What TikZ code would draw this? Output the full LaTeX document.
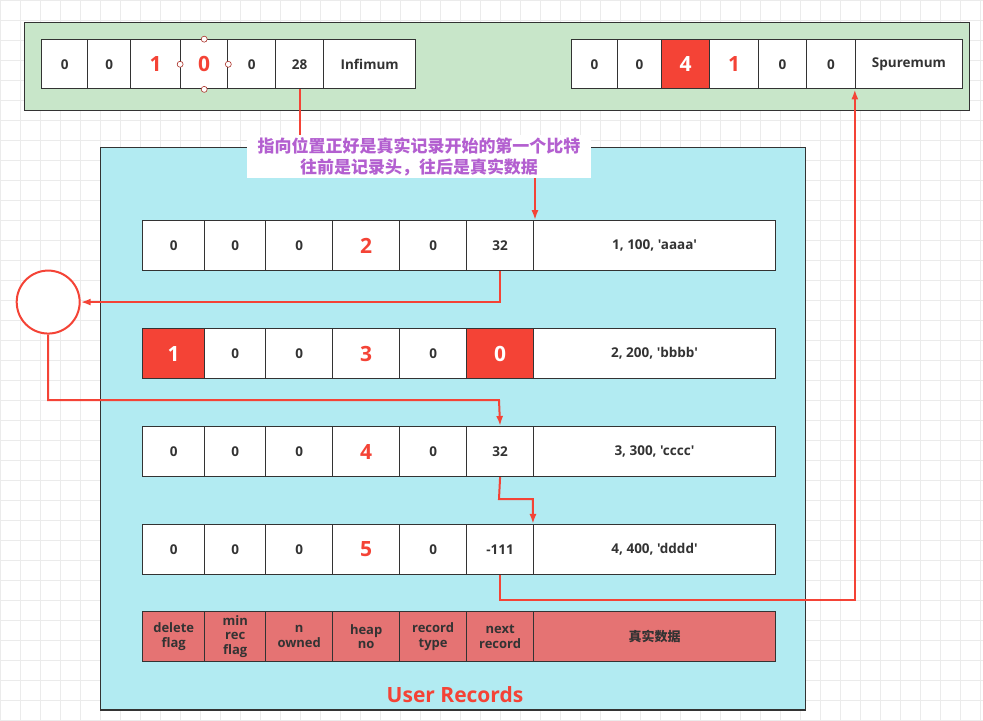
\documentclass[tikz,border=0pt]{standalone}
\usepackage{fontspec}
\setmainfont{Open Sans}
\newfontfamily\lat{Open Sans}
\newfontfamily\cjk{Noto Sans CJK SC}
\begin{document}
\begin{tikzpicture}[x=1pt,y=-1pt,
  cell/.style={draw=black!80,line width=1.2pt,fill=white,font=\lat\bfseries\fontsize{13.5}{15}\selectfont,text=black!80},
  hd/.style={draw=black!80,line width=1.2pt,fill=hdred,font=\lat\bfseries\fontsize{13}{14.5}\selectfont,text=black!80,align=center},
  red/.style={text=myred,font=\bfseries\fontsize{21}{22}\selectfont},
  hot/.style={fill=myred,text=white,font=\bfseries\fontsize{21}{22}\selectfont},
  link/.style={draw=myred,line width=2pt},
  tip/.style={-{Latex[length=10pt,width=7pt]}},
  handle/.style={circle,draw=myred!70!black,fill=white,inner sep=0pt,minimum size=6pt,line width=0.6pt}]
\definecolor{myred}{HTML}{F44336}
\definecolor{hdred}{HTML}{E57373}
\definecolor{grn}{HTML}{C8E6C9}
\definecolor{blu}{HTML}{B2EBF2}
\definecolor{purp}{HTML}{B35FD0}
\usetikzlibrary{arrows.meta}
\fill[white] (0,0) rectangle (983,720);
\foreach \x in {0,20,...,980} \draw[black!8] (\x,0) -- (\x,720);
\foreach \y in {0,20,...,720} \draw[black!8] (0,\y) -- (983,\y);
\useasboundingbox (0,0) rectangle (983,720);
\node[draw=black!80,fill=grn,line width=1.2pt,minimum width=946,minimum height=88,inner sep=0] (pg) at (497,66) {};
\node[draw=black!80,fill=blu,line width=1.2pt,minimum width=706,minimum height=563,inner sep=0] (ur) at (453,428.5) {};
\foreach \a/\b/\t/\s [count=\i] in {41/87/0/{},87/130/0/{},130/180/1/red,180/227/0/red,227/275/0/{},275/323/28/{},323/415/Infimum/{}}
  \node[cell,\s,minimum width={\b-\a},minimum height=49,inner sep=0,anchor=north west] (L\i) at (\a,39) {\t};
\foreach \a/\b/\t/\s [count=\i] in {571/617/0/{},617/661/0/{},661/709/4/hot,709/758/1/red,758/806/0/{},806/855/0/{},855/962/Spuremum/{}}
  \node[cell,\s,minimum width={\b-\a},minimum height=49,inner sep=0,anchor=north west] (R\i) at (\a,39) {\t};
\node[handle] (h1) at (L4.north) {};
\node[handle] (h2) at (L4.south) {};
\node[handle] (h3) at (L4.west) {};
\node[handle] (h4) at (L4.east) {};
\foreach \r/\y/\c in {1/220/{0/{},0/{},0/{},2/red,0/{},32/{},{1, 100, 'aaaa'}/{}},
                     2/328/{1/hot,0/{},0/{},3/red,0/{},0/hot,{2, 200, 'bbbb'}/{}},
                     3/426/{0/{},0/{},0/{},4/red,0/{},32/{},{3, 300, 'cccc'}/{}},
                     4/524/{0/{},0/{},0/{},5/red,0/{},-111/{},{4, 400, 'dddd'}/{}}}{
  \foreach \t/\s [count=\i] in \c {
    \pgfmathsetmacro\xa{{142,204,265,332,399,466,533}[\i-1]}
    \pgfmathsetmacro\xb{{204,265,332,399,466,533,775}[\i-1]}
    \node[cell,\s,minimum width={\xb-\xa},minimum height=50,inner sep=0,anchor=north west] (c\r\i) at (\xa,\y) {\t};}}
\foreach \t [count=\i] in {delete\\flag,min\\rec\\flag,n\\owned,heap\\no,record\\type,next\\record,{\cjk 真实数据}}{
  \pgfmathsetmacro\xa{{142,204,265,332,399,466,533}[\i-1]}
  \pgfmathsetmacro\xb{{204,265,332,399,466,533,775}[\i-1]}
  \node[hd,minimum width={\xb-\xa},minimum height=50,inner sep=0,anchor=north west,text width={\xb-\xa-2}] (h\i) at (\xa,611) {\t};}
\node[text=myred,font=\bfseries\fontsize{21}{23}\selectfont] (lab) at (455,695) {User Records};
\node[fill=white,text=purp,font=\cjk\bfseries\fontsize{17}{21}\selectfont,align=center,minimum width=344,minimum height=43,inner sep=0] (note) at (419,156.5) {指向位置正好是真实记录开始的第一个比特\\往前是记录头，往后是真实数据};
\node[circle,draw=myred,fill=white,line width=2pt,minimum size=63,inner sep=0] (cir) at (48,302) {};
\coordinate (n1) at (535,178);
\draw[link] (L6.south) -- (L6.south |- note.north);
\draw[link,tip] (n1) -- (n1 |- c17.north);
\draw[link,tip] (c16.south) |- (cir.east);
\draw[link,tip] (cir.south) |- (499,400) -- (c36.north);
\draw[link,tip] (c36.south) -- (499,499) -| (c47.north west);
\draw[link,tip] (c46.south) |- (855,600) -- (R7.south west);
\end{tikzpicture}
\end{document}
